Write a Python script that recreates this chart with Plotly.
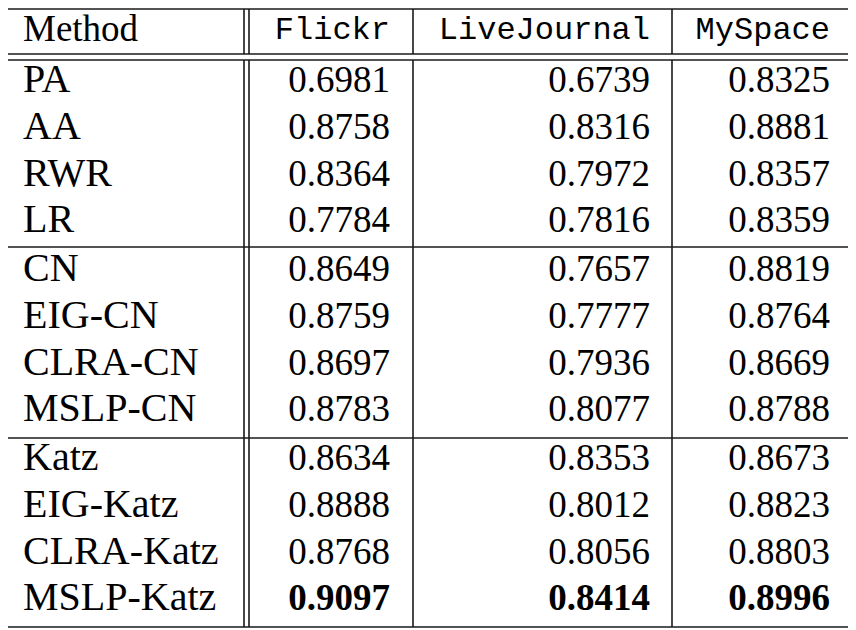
import plotly.graph_objects as go

# ---------------- data ----------------
headers = ['Method', 'Flickr', 'LiveJournal', 'MySpace']
methods = ['PA', 'AA', 'RWR', 'LR',
           'CN', 'EIG-CN', 'CLRA-CN', 'MSLP-CN',
           'Katz', 'EIG-Katz', 'CLRA-Katz', 'MSLP-Katz']
flickr = [0.6981, 0.8758, 0.8364, 0.7784,
          0.8649, 0.8759, 0.8697, 0.8783,
          0.8634, 0.8888, 0.8768, 0.9097]
livejournal = [0.6739, 0.8316, 0.7972, 0.7816,
               0.7657, 0.7777, 0.7936, 0.8077,
               0.8353, 0.8012, 0.8056, 0.8414]
myspace = [0.8325, 0.8881, 0.8357, 0.8359,
           0.8819, 0.8764, 0.8669, 0.8788,
           0.8673, 0.8823, 0.8803, 0.8996]
group_size = 4

# ---------------- layout constants (page pixels) ----------------
W, H = 856, 630
PAD = 8                               # default body margin of the page
SERIF = 'Liberation Serif'
MONO = 'Liberation Mono'
NUM_SIZE = 37
NAME_SIZE = 40
HEAD_NAME_SIZE = 37
HEAD_SIZE = 32
LINE = dict(color='#1a1a1a', width=1.6)

name_x = 23
col_right = [390, 650, 830]          # right edge of each numeric column
vlines_x = [244, 249, 413, 672]      # column rules
top_y, bottom_y = PAD + 1, 627
head_rules = [54, 60]
group_rules = [247, 438]

head_base = 41
row_base0, row_pitch, group_gap = 92, 46.8, 1.8


def center(baseline, size):
    # distance from the text point down to the baseline for 'middle'
    return baseline - 0.25 * size


row_base = [row_base0 + i * row_pitch + (i // group_size) * group_gap
            for i in range(len(methods))]

fig = go.Figure()

# method names
fig.add_trace(go.Scatter(
    x=[name_x] * len(methods), y=[center(b, NAME_SIZE) for b in row_base],
    mode='text', text=methods, textposition='middle right',
    textfont=dict(family=SERIF, size=NAME_SIZE, color='black'),
    cliponaxis=False, hoverinfo='skip'))

# numeric columns, best value in bold
for vals, xr in zip([flickr, livejournal, myspace], col_right):
    best = max(vals)
    txt = [f'<b>{v:.4f}</b>' if v == best else f'{v:.4f}' for v in vals]
    fig.add_trace(go.Scatter(
        x=[xr] * len(vals), y=[center(b, NUM_SIZE) for b in row_base],
        mode='text', text=txt, textposition='middle left',
        textfont=dict(family=SERIF, size=NUM_SIZE, color='black'),
        cliponaxis=False, hoverinfo='skip'))

# header row
fig.add_trace(go.Scatter(
    x=[name_x], y=[center(head_base, HEAD_NAME_SIZE)],
    mode='text', text=headers[:1], textposition='middle right',
    textfont=dict(family=SERIF, size=HEAD_NAME_SIZE, color='black'),
    cliponaxis=False, hoverinfo='skip'))
fig.add_trace(go.Scatter(
    x=col_right, y=[center(head_base - 2, HEAD_SIZE)] * 3,
    mode='text', text=headers[1:], textposition='middle left',
    textfont=dict(family=MONO, size=HEAD_SIZE, color='black'),
    cliponaxis=False, hoverinfo='skip'))

# ---------------- rules ----------------
shapes = []
for y in [top_y] + head_rules + group_rules + [bottom_y]:
    shapes.append(dict(type='line', xref='x', yref='y',
                       x0=0, x1=W + 10, y0=y, y1=y, line=LINE))
for x in vlines_x:
    shapes.append(dict(type='line', xref='x', yref='y',
                       x0=x, x1=x, y0=top_y, y1=head_rules[0], line=LINE))
    shapes.append(dict(type='line', xref='x', yref='y',
                       x0=x, x1=x, y0=head_rules[1], y1=bottom_y, line=LINE))

fig.update_layout(
    width=W - PAD, height=H - PAD,
    margin=dict(l=0, r=0, t=0, b=0),
    paper_bgcolor='white', plot_bgcolor='white',
    showlegend=False, hovermode=False,
    shapes=shapes,
    xaxis=dict(range=[PAD, W], visible=False, fixedrange=True),
    yaxis=dict(range=[H, PAD], visible=False, fixedrange=True),
)

fig.write_html("out.html", config={'displayModeBar': False})
